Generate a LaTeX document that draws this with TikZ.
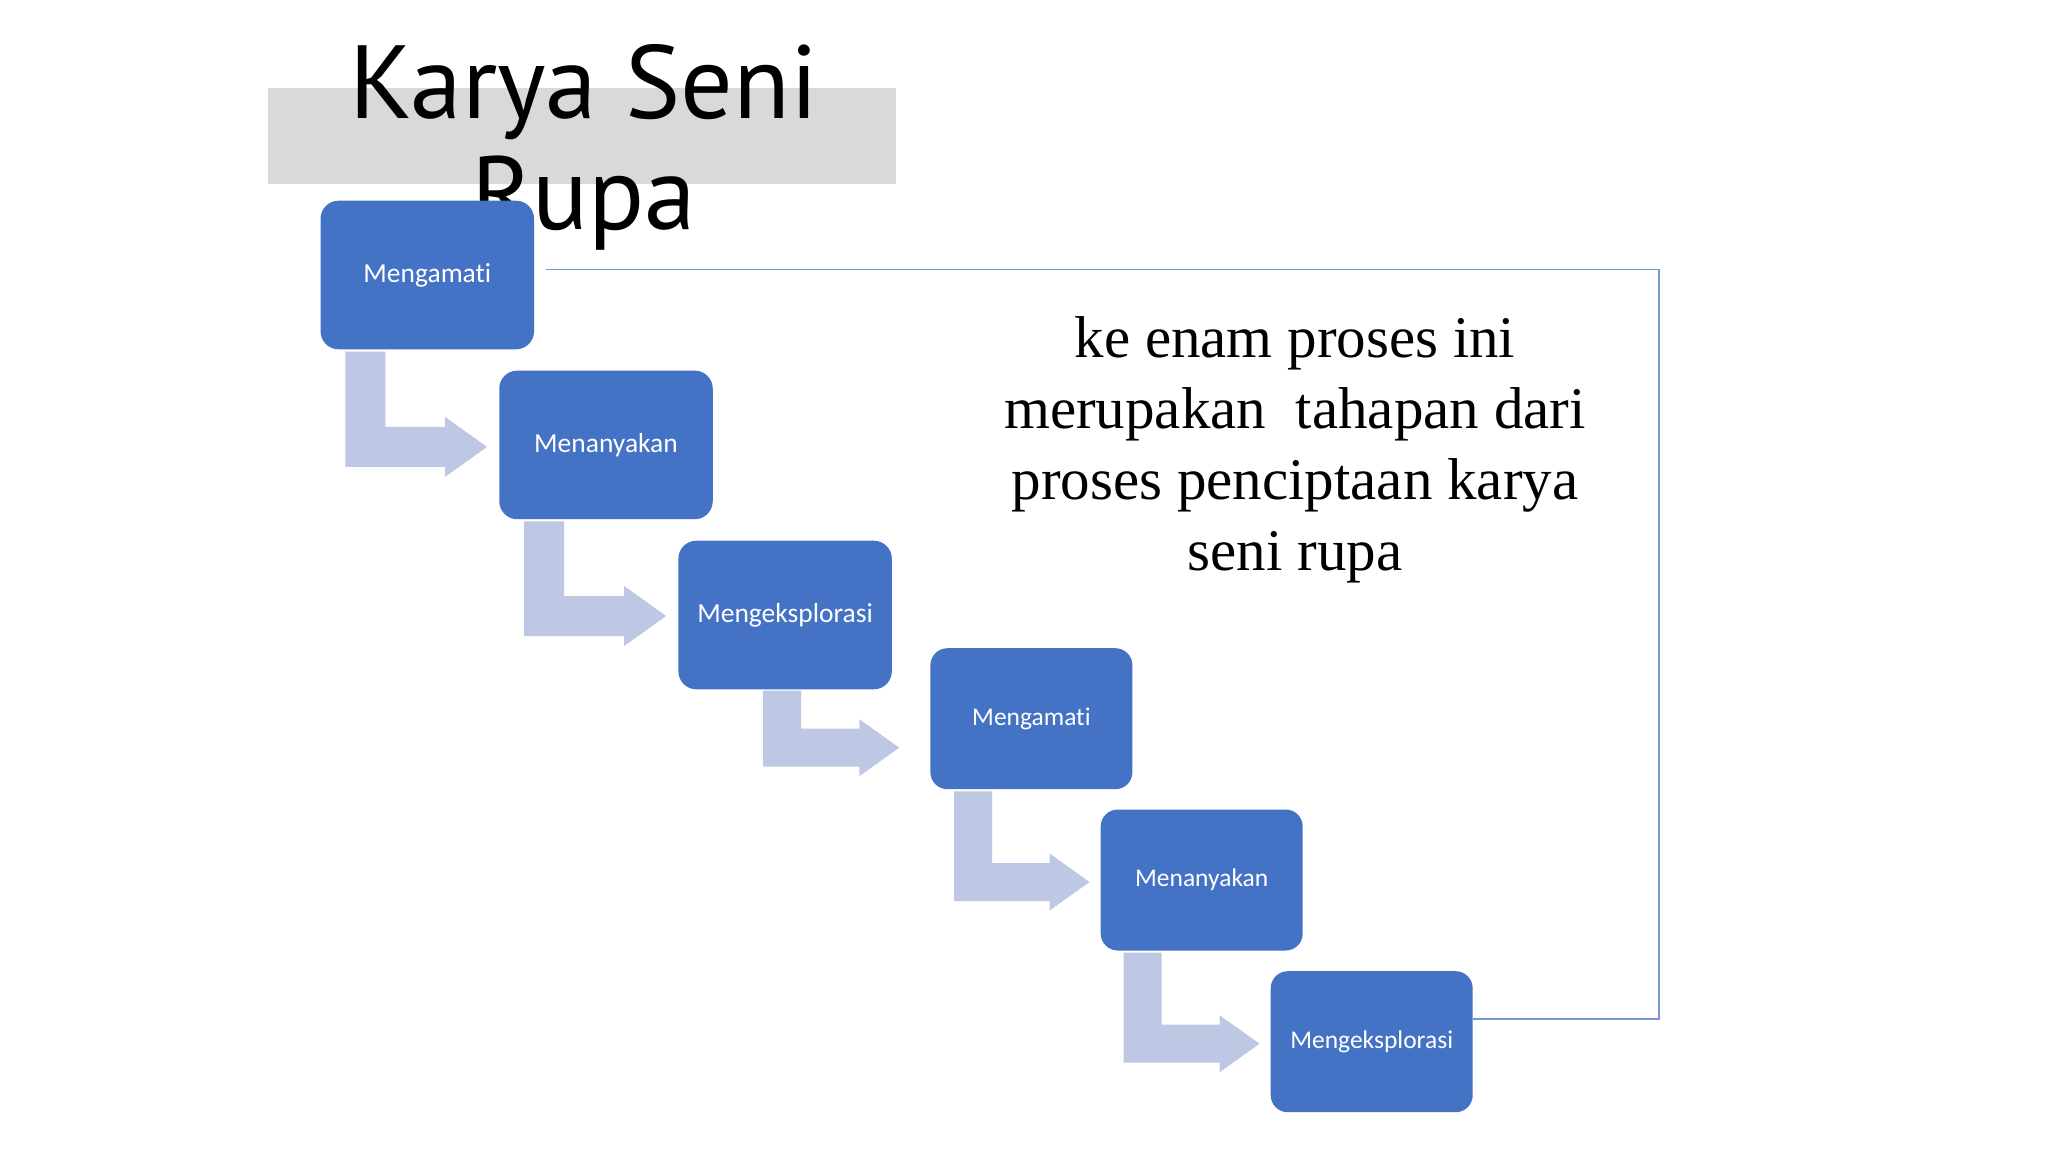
\documentclass[tikz,border=0pt]{standalone}
\usepackage{fontspec}
\setmainfont{Liberation Serif}
\newfontfamily\boxfont[Ligatures=NoCommon]{Carlito}
\newfontfamily\titlefont{PT Sans}
\usetikzlibrary{calc,positioning}
\definecolor{boxblue}{HTML}{4472C4}
\definecolor{arrowblue}{RGB}{190,199,228}
\definecolor{framecol}{RGB}{120,150,210}
\definecolor{bargray}{HTML}{D9D9D9}
\tikzset{
    stage/.style={
    rectangle,rounded corners=18pt,fill=boxblue,text=white,inner sep=0pt,
    minimum width=213.5pt,minimum height=148.6pt,font=\boxfont\fontsize{27.5}{32}\selectfont
    },
    smallstage/.style={
    stage,rounded corners=17pt,minimum width=202pt,minimum height=141pt,
    font=\boxfont\fontsize{25.5}{30}\selectfont
    },
    bendarrow/.style={
    fill=arrowblue
    },
    frameline/.style={
    draw=framecol,line width=1.5pt
    },
}
% bent block arrow: top left of the bar, tip, thickness
\newcommand{\bentarrow}[3]{%
  \coordinate (bartop) at (#1);
  \coordinate (bartip) at (#2);
  \fill[bendarrow] (bartop) -- ++(#3,0) |- ($(bartip)+(-1.05*#3,-0.5*#3)$)
    -- ++(0,-0.25*#3) -- (bartip) -- ++(-1.05*#3,0.75*#3) -- ++(0,-0.25*#3) -| (bartop) -- cycle;}

\begin{document}
\begin{tikzpicture}[x=1pt, y=-1pt]
   \fill[white] (0,0) rectangle (2048,1152);

   % title
   \fill[bargray] (267.9,88.3) rectangle (896.4,184.3);
   \node[font=\titlefont\fontsize{104}{111}\selectfont, align=center, inner sep=0pt] (title) at (584,147.5) {Karya Seni\\Rupa};

   % frame and note
   \coordinate (framestart) at (545.5,269.3);
   \coordinate (framecorner) at (1659,1019);
   \node[font=\fontsize{59}{71}\selectfont, align=center, inner sep=0pt] (note) at (1295,449.6)
     {ke enam proses ini\\merupakan\ \ tahapan dari\\proses penciptaan karya\\seni rupa};

   % steps
   \node[stage] (m1) at (427.3,275) {Mengamati};
   \node[stage] (m2) at (606,444.9) {Menanyakan};
   \node[stage] (m3) at (785.1,615) {Mengeksplorasi};
   \node[smallstage] (m4) at (1031.4,718.7) {Mengamati};
   \node[smallstage] (m5) at (1201.7,880) {Menanyakan};
   \node[smallstage] (m6) at (1371.7,1041.7) {Mengeksplorasi};

   \draw[frameline] (framestart) -| (framecorner) -- (framecorner -| m6.east);

   \bentarrow{$(m1.south west)+(25,2)$}{$(m2.west)+(-12,2)$}{40}
   \bentarrow{$(m2.south west)+(25,2)$}{$(m3.west)+(-12,1)$}{40}
   \bentarrow{$(m3.south west)+(85,1)$}{$(m4.west)+(-31,29)$}{38}
   \bentarrow{$(m4.south west)+(24,2)$}{$(m5.west)+(-11,2)$}{38}
   \bentarrow{$(m5.south west)+(23,2)$}{$(m6.west)+(-11,2)$}{38}
\end{tikzpicture}
\end{document}
